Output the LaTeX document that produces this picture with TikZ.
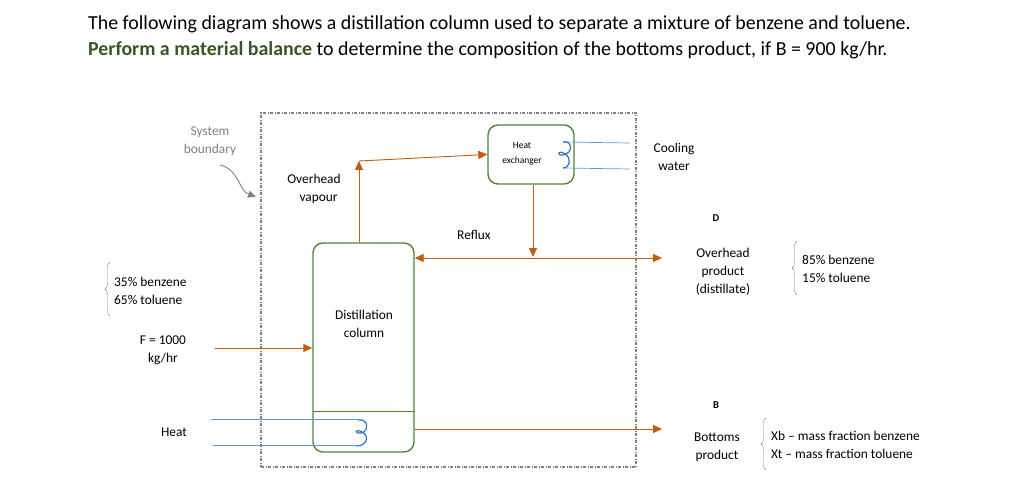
\documentclass[tikz,border=0pt]{standalone}
\usepackage{fontspec}
\setmainfont{Carlito}
\usetikzlibrary{arrows.meta,decorations.pathreplacing}
\definecolor{og}{HTML}{C55A11}
\definecolor{gr}{HTML}{548235}
\definecolor{bl}{HTML}{5B9BD5}
\definecolor{cb}{HTML}{2E75B6}
\definecolor{tg}{HTML}{375623}
\begin{document}
\begin{tikzpicture}[x=1pt,y=-1pt,
 lab/.style={font=\fontsize{13.4}{18}\selectfont,align=center,inner sep=0pt},
 unit/.style={draw=gr,line width=1.4pt,rounded corners=10pt},
 flow/.style={draw=og,line width=0.9pt,-{Triangle[length=9pt,width=8pt]}},
 br/.style={draw=gray,decorate,decoration={brace,amplitude=5pt}}]
\useasboundingbox (0,0) rectangle (1015,500);
\node[anchor=west,font=\fontsize{19.9}{22}\selectfont,inner sep=0pt] (t1) at (88,24) {The following diagram shows a distillation column used to separate a mixture of benzene and toluene.};
\node[anchor=west,font=\fontsize{19.9}{22}\selectfont,inner sep=0pt] (t2) at (88,50) {\textcolor{tg}{\textbf{Perform a material balance}} to determine the composition of the bottoms product, if B = 900 kg/hr.};
% boundary
\node[draw=gray,line width=1.2pt,dash pattern=on 3pt off 1.5pt on 1pt off 1.5pt,minimum width=375,minimum height=354,inner sep=0pt] (sb) at (448.5,290) {};
\node[lab,text=gray] (sbt) at (210,141) {System\\boundary};
\coordinate (sba) at (256,197);
\draw[gray,line width=0.9pt,-{Triangle[length=8pt,width=7pt]}] (220,165) .. controls (240,170) and (238,190) .. (sba);
% column
\node[unit,minimum width=101,minimum height=209,inner sep=0pt] (col) at (363.5,347.5) {};
\node[lab] (colt) at (364,324) {Distillation\\column};
\draw[gr,line width=0.9pt] (313,411) -- (415,411);
% heat exchanger
\node[unit,minimum width=86,minimum height=59,inner sep=0pt] (hx) at (531,154.5) {};
\node[lab,font=\fontsize{9.5}{15}\selectfont] (hxt) at (522,154) {Heat\\exchanger};
% coils
\draw[bl,line width=0.7pt] (563,142) -- (630,143) (563,168) -- (630,169);
\draw[cb,line width=1.2pt] (563,142) .. controls (572,140) and (574,153) .. (563,155) .. controls (556,156) and (558,149) .. (565,154) .. controls (572,158) and (570,168) .. (563,168);
\draw[bl,line width=0.7pt] (211,419) -- (358,419) (213,445) -- (356,445);
\draw[cb,line width=1.2pt] (358,420) .. controls (368,418) and (370,431) .. (361,433) .. controls (354,434) and (355,428) .. (362,432) .. controls (370,436) and (367,446) .. (356,446);
\node[lab] (cw) at (674,157) {Cooling\\water};
% flows
\coordinate (v1) at (359,161);
\draw[flow] (col.north -| v1) -- (v1);
\draw[flow] (v1) -- (hx.west);
\node[lab] (ov) at (314,189) {Overhead\\\ \ \ vapour};
\coordinate (rj) at (533,257);
\draw[flow] (hx.south -| rj) -- (rj);
\node[lab] (rf) at (474,235) {Reflux};
\coordinate (dout) at (662,258);
\draw[flow] (rj |- dout) -- (col.east |- dout);
\draw[flow] (rj |- dout) -- (dout);
\coordinate (fin) at (215,348);
\draw[flow] (fin) -- (col.west |- fin);
\coordinate (bout) at (662,429);
\draw[flow] (col.east |- bout) -- (bout);
% labels
\node[lab,font=\bfseries\fontsize{10.5}{12}\selectfont] (d) at (716,218) {D};
\node[lab] (op) at (723,272) {Overhead\\product\\(distillate)};
\node[lab,font=\bfseries\fontsize{10.5}{12}\selectfont] (b) at (716,405) {B};
\node[lab] (bp) at (717,447) {Bottoms\\product};
\node[lab] (fd) at (163,350) {F = 1000\\kg/hr};
\node[lab] (ht) at (174,432) {Heat};
\node[lab,align=left,anchor=west] (fc) at (114,291) {35\% benzene\\65\% toluene};
\draw[br] (110,316) -- (110,262);
\node[lab,align=left,anchor=west] (dc) at (802,269) {85\% benzene\\15\% toluene};
\draw[br] (797,295) -- (797,241);
\node[lab,align=left,anchor=west] (bc) at (771,445) {Xb -- mass fraction benzene\\Xt -- mass fraction toluene};
\draw[br] (766,470) -- (766,418);
\end{tikzpicture}
\end{document}
